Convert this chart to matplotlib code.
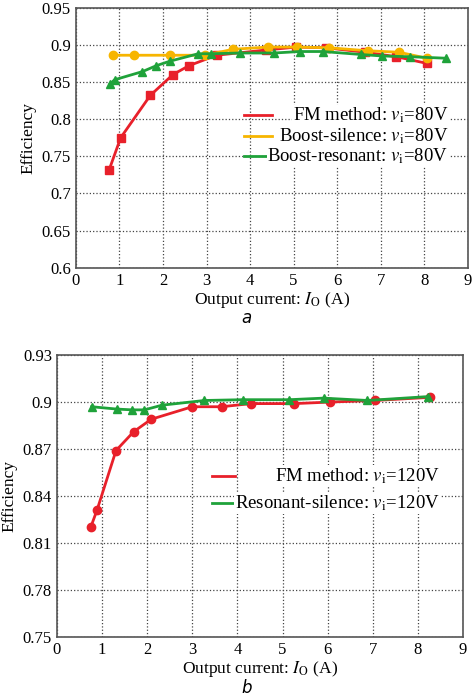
import matplotlib
matplotlib.use("Agg")
import matplotlib.pyplot as plt
from matplotlib.lines import Line2D

plt.rcParams['font.family'] = ['Liberation Serif', 'DejaVu Serif']
plt.rcParams['mathtext.fontset'] = 'stix'

fm80_x = [0.76, 1.03, 1.71, 2.23, 2.6, 3.23, 4.36, 5.06, 5.75, 6.65, 7.36, 8.06]
fm80_y = [0.731, 0.775, 0.832, 0.860, 0.872, 0.886, 0.893, 0.897, 0.896, 0.890, 0.884, 0.875]
bs80_x = [0.86, 1.33, 2.16, 2.96, 3.61, 4.41, 5.08, 5.82, 6.71, 7.42, 8.06]
bs80_y = [0.886, 0.886, 0.886, 0.886, 0.894, 0.897, 0.897, 0.896, 0.892, 0.890, 0.882]
br80_x = [0.78, 0.89, 1.53, 1.85, 2.16, 2.81, 3.11, 3.76, 4.55, 5.14, 5.67, 6.55, 7.03, 7.68, 8.49]
br80_y = [0.847, 0.853, 0.864, 0.872, 0.878, 0.888, 0.888, 0.889, 0.889, 0.891, 0.891, 0.887, 0.885, 0.884, 0.882]
fm120_x = [0.75, 0.89, 1.31, 1.7, 2.09, 3.0, 3.65, 4.3, 5.26, 6.06, 7.04, 8.27]
fm120_y = [0.820, 0.831, 0.869, 0.881, 0.889, 0.897, 0.897, 0.899, 0.899, 0.900, 0.901, 0.903]
rs120_x = [0.77, 1.33, 1.67, 1.94, 2.33, 3.27, 4.12, 5.15, 5.91, 6.88, 8.23]
rs120_y = [0.897, 0.8955, 0.895, 0.895, 0.898, 0.901, 0.9015, 0.9015, 0.9025, 0.901, 0.9035]

RED = '#e8202a'; YEL = '#f7b500'; GRN = '#1fa23a'

fig = plt.figure(figsize=(4.74, 6.99), dpi=100)
ax1 = fig.add_axes([0.160, 0.617, 0.827, 0.372])
ax2 = fig.add_axes([0.120, 0.089, 0.857, 0.403])

ax1.plot(fm80_x, fm80_y, color=RED, lw=2, marker='s', ms=6)
ax1.plot(bs80_x, bs80_y, color=YEL, lw=2, marker='o', ms=6)
ax1.plot(br80_x, br80_y, color=GRN, lw=2, marker='^', ms=6)
ax2.plot(fm120_x, fm120_y, color=RED, lw=2, marker='o', ms=6)
ax2.plot(rs120_x, rs120_y, color=GRN, lw=2, marker='^', ms=6)

ax1.set_xlim(0, 9); ax1.set_ylim(0.6, 0.95)
ax1.set_yticks([0.6, 0.65, 0.7, 0.75, 0.8, 0.85, 0.9, 0.95])
ax1.set_yticklabels(['0.6', '0.65', '0.7', '0.75', '0.8', '0.85', '0.9', '0.95'])
ax2.set_xlim(0, 9); ax2.set_ylim(0.75, 0.93)
ax2.set_yticks([0.75, 0.78, 0.81, 0.84, 0.87, 0.9, 0.93])
ax2.set_yticklabels(['0.75', '0.78', '0.81', '0.84', '0.87', '0.9', '0.93'])

for ax in (ax1, ax2):
    ax.set_xticks(range(10))
    ax.grid(True, ls=':', color='#444444', lw=0.9)
    ax.tick_params(direction='in', labelsize=12, length=0)
    ax.set_xlabel('Output current: $I_\\mathrm{O}$ (A)', fontsize=12.5, labelpad=1)
    ax.set_ylabel('Efficiency', fontsize=12.5, labelpad=4)
    for s in ax.spines.values():
        s.set_color('#555555'); s.set_linewidth(1.2)

def legend(ax, items, x0, x1, xt, ys):
    for (lab, c), y in zip(items, ys):
        ax.add_line(Line2D([x0, x1], [y, y], color=c, lw=2, transform=ax.transAxes))
        ax.text(xt, y, lab, transform=ax.transAxes, ha='right', va='center', fontsize=13.5,
                bbox=dict(fc='white', ec='none', pad=0.5))

legend(ax1, [('FM method: $v_\\mathrm{i}$=80V', RED), ('Boost-silence: $v_\\mathrm{i}$=80V', YEL),
             ('Boost-resonant: $v_\\mathrm{i}$=80V', GRN)], 0.43, 0.50, 0.95, [0.586, 0.507, 0.43])
legend(ax2, [('FM method: $v_\\mathrm{i}$=120V', RED), ('Resonant-silence: $v_\\mathrm{i}$=120V', GRN)],
       0.382, 0.438, 0.943, [0.571, 0.475])

fig.text(0.52, 1 - 318/699, 'a', fontsize=12, style='italic', family='DejaVu Sans', ha='center', va='center')
fig.text(0.52, 1 - 688/699, 'b', fontsize=12, style='italic', family='DejaVu Sans', ha='center', va='center')

fig.savefig('out.png', dpi=100)
